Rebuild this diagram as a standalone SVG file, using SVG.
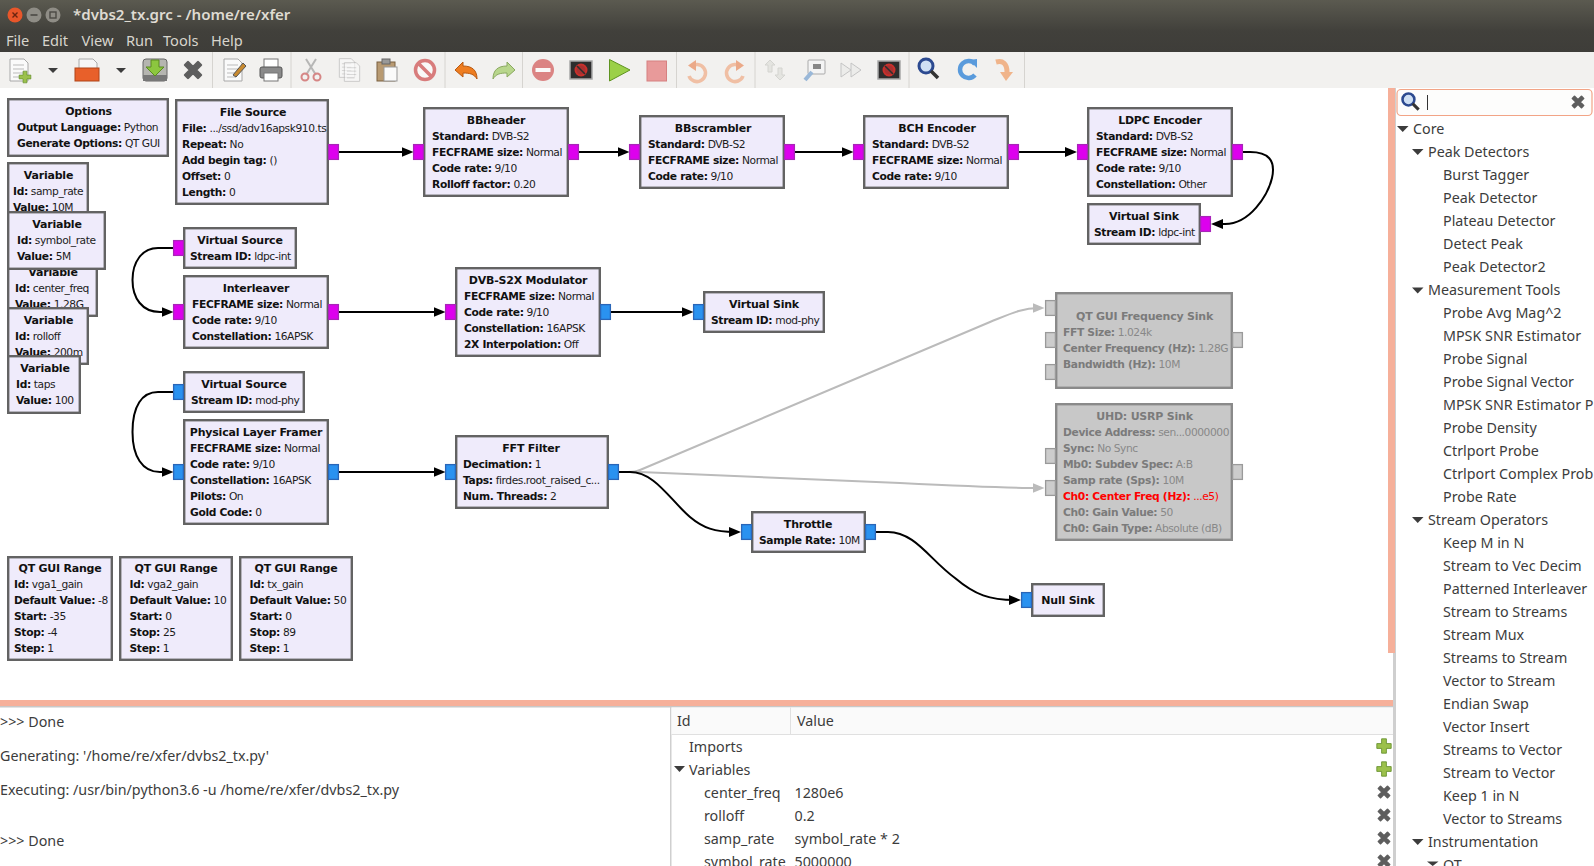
<svg xmlns="http://www.w3.org/2000/svg" width="1594" height="866" viewBox="0 0 1594 866">
<style>
text{font-family:"DejaVu Sans",sans-serif;font-size:10.7px;letter-spacing:-.45px;fill:#1c1c1c;white-space:pre}
.ui{font-family:"Noto Sans",sans-serif;font-size:14.3px;letter-spacing:0;fill:#3c3c3c}
.ttl{font-family:"Noto Sans",sans-serif;font-size:15.1px;letter-spacing:0;fill:#dfdbd2;font-weight:600}
.mn{font-family:"Noto Sans",sans-serif;font-size:14.6px;letter-spacing:0;fill:#d8d5cd}
.t{font-weight:bold;text-anchor:middle;font-size:11px;letter-spacing:-.22px;fill:#111}
.k{font-weight:bold;fill:#111;letter-spacing:-.33px}
.b{fill:#efebfb;stroke:#636363;stroke-width:2.4}
.pm{fill:#dd00ee;stroke:#a825b8;stroke-width:1.3}
.pb{fill:#2a92f0;stroke:#2a66b8;stroke-width:1.3}
.pg{fill:#cccccc;stroke:#9a9a9a;stroke-width:1.3}
.d .b{fill:#c8c8c8;stroke:#8a8a8a}
.d text{fill:#888888}
.d .t,.d .k{fill:#7b7b7b}
.d .re{fill:#ff0000}
.c{fill:none;stroke:#000;stroke-width:2;marker-end:url(#ah)}
.cg{fill:none;stroke:#bbbbbb;stroke-width:2;marker-end:url(#ahg)}
.tri{fill:#3c3c3c}
.sep{stroke:#d6d4d0;stroke-width:1}
</style>
<defs>
<linearGradient id="gt" x1="0" y1="0" x2="0" y2="1"><stop offset="0" stop-color="#5b5a50"/><stop offset="0.6" stop-color="#41403b"/><stop offset="1" stop-color="#3e3d39"/></linearGradient>
<marker id="ah" markerUnits="userSpaceOnUse" markerWidth="12" markerHeight="10" viewBox="0 0 12 10" refX="6" refY="5" orient="auto"><path d="M0 0L12 5L0 10Z" fill="#000"/></marker>
<marker id="ahg" markerUnits="userSpaceOnUse" markerWidth="12" markerHeight="10" viewBox="0 0 12 10" refX="6" refY="5" orient="auto"><path d="M0 0L12 5L0 10Z" fill="#bbb"/></marker>
<g id="ix"><path d="M-8 -5L-5 -8L0 -3L5 -8L8 -5L3 0L8 5L5 8L0 3L-5 8L-8 5L-3 0Z" fill="#5e5e5e" stroke="#5e5e5e" stroke-width="2.400" stroke-linejoin="round"/></g>
<g id="ip"><path d="M-3 -9H3V-3H9V3H3V9H-3V3H-9V-3H-3Z" fill="#9cc14c" stroke="#5f8a26"/></g>
<g id="ib"><rect x="-11" y="-9" width="22" height="18" fill="#2d2d2d" stroke="#a8a8a8" stroke-width="1.500"/><circle r="5.500" fill="#a83030" stroke="#c8302c" stroke-width="2"/><path d="M-4 -4L4 4" stroke="#2d2d2d" stroke-width="1.600"/></g>
<g id="im"><circle cx="-3" cy="-3" r="7" fill="#cfe0f4" stroke="#2c4a90" stroke-width="3"/><path d="M2 2L9 9" stroke="#333" stroke-width="3.600"/></g>
<g id="id"><path d="M-9 -11H5L9 -7V11H-9Z" fill="#fafafa" stroke="#a8a8a8"/><path d="M-6 -5H5M-6 -1H5M-6 3H5M-6 7H3" stroke="#bbb"/></g>
</defs>
<rect width="1594" height="866" fill="#fff"/>

<g id="titlebar">
<rect width="1594" height="52" fill="url(#gt)"/>
<circle cx="15" cy="15" r="7.500" fill="#e8562a"/><path d="M12.500 12.500L17.500 17.500M17.500 12.500L12.500 17.500" stroke="#6b2410" stroke-width="1.400"/>
<circle cx="34" cy="15" r="7.500" fill="#8f8d86"/><path d="M30.500 15H37.500" stroke="#4a4944" stroke-width="1.600"/>
<circle cx="53" cy="15" r="7.500" fill="#8f8d86"/><rect x="50" y="12" width="6" height="6" fill="none" stroke="#4a4944" stroke-width="1.400"/>
<text class="ttl" x="73" y="20">*dvbs2_tx.grc - /home/re/xfer</text>
<text class="mn" x="6" y="46">File</text><text class="mn" x="42" y="46">Edit</text><text class="mn" x="81.500" y="46">View</text><text class="mn" x="126" y="46">Run</text><text class="mn" x="163" y="46">Tools</text><text class="mn" x="211" y="46">Help</text>
</g>

<g id="toolbar">
<rect y="52" width="1594" height="36" fill="#f2f1ef"/>
<path class="sep" d="M212.500 52V88M291 52V88M445 52V88M522.500 52V88M676.500 52V88M755 52V88M909 52V88M1024.500 52V88"/>
<g transform="translate(19,70)"><use href="#id"/></g><use href="#ip" transform="translate(25,77) scale(.65)"/>
<path d="M48 68H58L53 73Z" fill="#3c3c3c"/>
<g transform="translate(87,70)"><path d="M-8 -11H6L10 -7V2H-8Z" fill="#f6f6f6" stroke="#aaa"/><rect x="-12" y="-2" width="24" height="13" fill="#e8602a" stroke="#b04518"/></g>
<path d="M116 68H126L121 73Z" fill="#3c3c3c"/>
<g transform="translate(155,70)"><rect x="-12" y="-11" width="24" height="22" rx="3" fill="#b5b5b0" stroke="#666"/><rect x="-12" y="5" width="24" height="6" fill="#777"/><path d="M-4 -10H4V-3H9L0 6L-9 -3H-4Z" fill="#8cc63f" stroke="#5a8a20"/></g>
<use href="#ix" transform="translate(193,70)"/>
<g transform="translate(233,70)"><use href="#id"/><path d="M0 5L10 -7L13 -4L3 7Z" fill="#c88a30" stroke="#555"/></g>
<g transform="translate(271,70)"><rect x="-7" y="-11" width="14" height="9" fill="#fff" stroke="#777"/><rect x="-11" y="-3" width="22" height="11" rx="2" fill="#8a8a8a" stroke="#555"/><rect x="-7" y="3" width="14" height="8" fill="#fff" stroke="#777"/></g>
<g transform="translate(311,70)" opacity=".55"><path d="M-5 -11L5 5M5 -11L-5 5" stroke="#888" stroke-width="2"/><circle cx="-6" cy="7" r="3.500" fill="none" stroke="#c03030" stroke-width="2"/><circle cx="6" cy="7" r="3.500" fill="none" stroke="#c03030" stroke-width="2"/></g>
<g transform="translate(347,68) scale(.85)" opacity=".6"><use href="#id"/></g><g transform="translate(352,72) scale(.85)" opacity=".6"><use href="#id"/></g>
<g transform="translate(387,70)"><rect x="-10" y="-8" width="18" height="19" fill="#b89a72" stroke="#7a6040"/><rect x="-5" y="-11" width="8" height="5" fill="#999" stroke="#666"/><rect x="-3" y="-3" width="13" height="14" fill="#fafafa" stroke="#999"/></g>
<g transform="translate(425,70)" opacity=".6"><circle r="9.500" fill="#fff" stroke="#c83030" stroke-width="3.500"/><path d="M-6.500 -6.500L6.500 6.500" stroke="#c83030" stroke-width="3.500"/></g>
<path d="M455 70L463 62V66C472 66 477 70 477 79C474 74 470 73 463 73V77Z" fill="#ee7d20" stroke="#b85810"/>
<path d="M515 70L507 62V66C498 66 493 70 493 79C496 74 500 73 507 73V77Z" fill="#b8d68c" stroke="#8aa860"/>
<g transform="translate(543,70)" opacity=".65"><circle r="11" fill="#cf4a4a"/><rect x="-7.500" y="-2" width="15" height="4" fill="#fff"/></g>
<use href="#ib" transform="translate(581,70)"/>
<path d="M609.500 59.500L630 70L609.500 81Z" fill="#9bd048" stroke="#5f9420"/>
<rect x="647" y="61" width="19.500" height="20" fill="#e89a9a" stroke="#d68080"/>
<g fill="none" stroke="#f0bfa4" stroke-width="3.600"><path d="M691 67A8.500 8.500 0 1 1 689 76"/><path d="M741 67A8.500 8.500 0 1 0 743 76"/></g>
<path d="M696 60V71L688 65.500Z" fill="#eba988"/><path d="M736 60V71L744 65.500Z" fill="#eba988"/>
<path d="M768 72V65H765L770 60L775 65H772V72ZM778 68V75H775L780 80L785 75H782V68Z" fill="#e4e4e0" stroke="#d4d4d0"/>
<rect x="808" y="60" width="17" height="14" rx="1" fill="#f4f4f4" stroke="#aaa"/><rect x="813" y="64" width="8" height="5" fill="#888"/><path d="M805 80L812 72" stroke="#9ab8d8" stroke-width="4"/>
<path d="M841 63L851 70L841 77ZM851 63L861 70L851 77Z" fill="#ececea" stroke="#c4c4c4"/>
<use href="#ib" transform="translate(889,70)"/>
<use href="#im" transform="translate(929,69)"/>
<path d="M975 64A8.500 8.500 0 1 0 975 75" fill="none" stroke="#5a9bdc" stroke-width="4.500"/><path d="M969 60L977 59V68Z" fill="#5a9bdc"/>
<path d="M996 62C1003 60 1007 64 1007 72" fill="none" stroke="#f0b48a" stroke-width="5"/><path d="M1000 72H1013L1006 81Z" fill="#f0b48a"/>
</g>

<g id="connectors">
<path class="cg" d="M618 472H628C632 472 636 472 640 470L990 322C1010 314 1022 308 1038.500 308"/>
<path class="cg" d="M618 472H640L900 483C960 486 1010 488 1038.500 488"/>
<path class="c" d="M339 152H407.500"/>
<path class="c" d="M579 152H623.500"/>
<path class="c" d="M795 152H847.500"/>
<path class="c" d="M1019 152H1071"/>
<path class="c" d="M1243 152H1250C1268 152 1276 160 1272 178C1268 195 1250 224 1225 224H1217"/>
<path class="c" d="M173 248H158C142 248 132.500 262 132.500 280C132.500 298 142 312 160 312H167.500"/>
<path class="c" d="M339 312H439.500"/>
<path class="c" d="M610 312H687.500"/>
<path class="c" d="M173 392H158C142 392 132.500 406 132.500 432C132.500 456 142 472 160 472H167.500"/>
<path class="c" d="M339 472H439.500"/>
<path class="c" d="M618 472H630C655 472 670 500 690 517C703 528 715 532 735 532"/>
<path class="c" d="M875 532H888C915 532 930 560 955 578C975 595 990 600 1015 600"/>
</g>

<g id="node-options"><rect class="b" x="8.200" y="99.200" width="159.600" height="56.600"/><text class="t" x="88.500" y="115">Options</text><text x="17" y="131"><tspan class="k">Output Language:</tspan> Python</text><text x="17" y="147"><tspan class="k">Generate Options:</tspan> QT GUI</text></g>

<g id="node-samp-rate"><rect class="b" x="8.200" y="163.200" width="79.600" height="56.600"/><text class="t" x="48.500" y="179">Variable</text><text x="13" y="195"><tspan class="k">Id:</tspan> samp_rate</text><text x="13" y="211"><tspan class="k">Value:</tspan> 10M</text></g>
<g id="node-center-freq"><rect class="b" x="8.200" y="259.200" width="88.600" height="56.600"/><text class="t" x="53" y="276">Variable</text><text x="15" y="292"><tspan class="k">Id:</tspan> center_freq</text><text x="15" y="308"><tspan class="k">Value:</tspan> 1.28G</text></g>
<g id="node-symbol-rate"><rect class="b" x="8.200" y="212.200" width="96.600" height="56.600"/><text class="t" x="57" y="228">Variable</text><text x="17" y="244"><tspan class="k">Id:</tspan> symbol_rate</text><text x="17" y="260"><tspan class="k">Value:</tspan> 5M</text></g>
<g id="node-rolloff"><rect class="b" x="8.200" y="308.200" width="79.600" height="55.600"/><text class="t" x="48.500" y="324">Variable</text><text x="15" y="340"><tspan class="k">Id:</tspan> rolloff</text><text x="15" y="356"><tspan class="k">Value:</tspan> 200m</text></g>
<g id="node-taps"><rect class="b" x="8.200" y="356.200" width="71.600" height="56.600"/><text class="t" x="45" y="372">Variable</text><text x="16" y="388"><tspan class="k">Id:</tspan> taps</text><text x="16" y="404"><tspan class="k">Value:</tspan> 100</text></g>

<g id="node-file-source"><rect class="b" x="176.200" y="100.200" width="151.600" height="103.600"/><rect class="pm" x="328.600" y="144.600" width="9.800" height="14.800"/><text class="t" x="253" y="116">File Source</text><text x="182" y="132"><tspan class="k">File:</tspan> .../ssd/adv16apsk910.ts</text><text x="182" y="148"><tspan class="k">Repeat:</tspan> No</text><text x="182" y="164"><tspan class="k">Add begin tag:</tspan> ()</text><text x="182" y="180"><tspan class="k">Offset:</tspan> 0</text><text x="182" y="196"><tspan class="k">Length:</tspan> 0</text></g>

<g id="node-bbheader"><rect class="b" x="424.200" y="108.200" width="143.600" height="87.600"/><rect class="pm" x="413.600" y="144.600" width="9.800" height="14.800"/><rect class="pm" x="568.600" y="144.600" width="9.800" height="14.800"/><text class="t" x="496" y="124">BBheader</text><text x="432" y="140"><tspan class="k">Standard:</tspan> DVB-S2</text><text x="432" y="156"><tspan class="k">FECFRAME size:</tspan> Normal</text><text x="432" y="172"><tspan class="k">Code rate:</tspan> 9/10</text><text x="432" y="188"><tspan class="k">Rolloff factor:</tspan> 0.20</text></g>

<g id="node-bbscrambler"><rect class="b" x="640.200" y="116.200" width="143.600" height="71.600"/><rect class="pm" x="629.600" y="144.600" width="9.800" height="14.800"/><rect class="pm" x="784.600" y="144.600" width="9.800" height="14.800"/><text class="t" x="713" y="132">BBscrambler</text><text x="648" y="148"><tspan class="k">Standard:</tspan> DVB-S2</text><text x="648" y="164"><tspan class="k">FECFRAME size:</tspan> Normal</text><text x="648" y="180"><tspan class="k">Code rate:</tspan> 9/10</text></g>

<g id="node-bch"><rect class="b" x="864.200" y="116.200" width="143.600" height="71.600"/><rect class="pm" x="853.600" y="144.600" width="9.800" height="14.800"/><rect class="pm" x="1008.600" y="144.600" width="9.800" height="14.800"/><text class="t" x="937" y="132">BCH Encoder</text><text x="872" y="148"><tspan class="k">Standard:</tspan> DVB-S2</text><text x="872" y="164"><tspan class="k">FECFRAME size:</tspan> Normal</text><text x="872" y="180"><tspan class="k">Code rate:</tspan> 9/10</text></g>

<g id="node-ldpc"><rect class="b" x="1088.200" y="108.200" width="143.600" height="87.600"/><rect class="pm" x="1077.600" y="144.600" width="9.800" height="14.800"/><rect class="pm" x="1232.600" y="144.600" width="9.800" height="14.800"/><text class="t" x="1160" y="124">LDPC Encoder</text><text x="1096" y="140"><tspan class="k">Standard:</tspan> DVB-S2</text><text x="1096" y="156"><tspan class="k">FECFRAME size:</tspan> Normal</text><text x="1096" y="172"><tspan class="k">Code rate:</tspan> 9/10</text><text x="1096" y="188"><tspan class="k">Constellation:</tspan> Other</text></g>

<g id="node-vsink-ldpc"><rect class="b" x="1088.200" y="204.200" width="111.600" height="39.600"/><rect class="pm" x="1200.600" y="216.600" width="9.800" height="14.800"/><text class="t" x="1144" y="220">Virtual Sink</text><text x="1094" y="236"><tspan class="k">Stream ID:</tspan> ldpc-int</text></g>

<g id="node-vsource-ldpc"><rect class="b" x="184.200" y="228.200" width="111.600" height="39.600"/><rect class="pm" x="173.600" y="240.600" width="9.800" height="14.800"/><text class="t" x="240" y="244">Virtual Source</text><text x="190" y="260"><tspan class="k">Stream ID:</tspan> ldpc-int</text></g>

<g id="node-interleaver"><rect class="b" x="184.200" y="276.200" width="143.600" height="71.600"/><rect class="pm" x="173.600" y="304.600" width="9.800" height="14.800"/><rect class="pm" x="328.600" y="304.600" width="9.800" height="14.800"/><text class="t" x="256" y="292">Interleaver</text><text x="192" y="308"><tspan class="k">FECFRAME size:</tspan> Normal</text><text x="192" y="324"><tspan class="k">Code rate:</tspan> 9/10</text><text x="192" y="340"><tspan class="k">Constellation:</tspan> 16APSK</text></g>

<g id="node-dvbs2x-mod"><rect class="b" x="456.200" y="268.200" width="143.600" height="87.600"/><rect class="pm" x="445.600" y="304.600" width="9.800" height="14.800"/><rect class="pb" x="600.600" y="304.600" width="9.800" height="14.800"/><text class="t" x="528" y="284">DVB-S2X Modulator</text><text x="464" y="300"><tspan class="k">FECFRAME size:</tspan> Normal</text><text x="464" y="316"><tspan class="k">Code rate:</tspan> 9/10</text><text x="464" y="332"><tspan class="k">Constellation:</tspan> 16APSK</text><text x="464" y="348"><tspan class="k">2X Interpolation:</tspan> Off</text></g>

<g id="node-vsink-mod"><rect class="b" x="704.200" y="292.200" width="119.600" height="39.600"/><rect class="pb" x="693.600" y="304.600" width="9.800" height="14.800"/><text class="t" x="764" y="308">Virtual Sink</text><text x="711" y="324"><tspan class="k">Stream ID:</tspan> mod-phy</text></g>

<g id="node-vsource-mod"><rect class="b" x="184.200" y="372.200" width="119.600" height="39.600"/><rect class="pb" x="173.600" y="384.600" width="9.800" height="14.800"/><text class="t" x="244" y="388">Virtual Source</text><text x="191" y="404"><tspan class="k">Stream ID:</tspan> mod-phy</text></g>

<g id="node-framer"><rect class="b" x="184.200" y="420.200" width="143.600" height="103.600"/><rect class="pb" x="173.600" y="464.600" width="9.800" height="14.800"/><rect class="pb" x="328.600" y="464.600" width="9.800" height="14.800"/><text class="t" x="256" y="436">Physical Layer Framer</text><text x="190" y="452"><tspan class="k">FECFRAME size:</tspan> Normal</text><text x="190" y="468"><tspan class="k">Code rate:</tspan> 9/10</text><text x="190" y="484"><tspan class="k">Constellation:</tspan> 16APSK</text><text x="190" y="500"><tspan class="k">Pilots:</tspan> On</text><text x="190" y="516"><tspan class="k">Gold Code:</tspan> 0</text></g>

<g id="node-fft-filter"><rect class="b" x="456.200" y="436.200" width="151.600" height="71.600"/><rect class="pb" x="445.600" y="464.600" width="9.800" height="14.800"/><rect class="pb" x="608.600" y="464.600" width="9.800" height="14.800"/><text class="t" x="531" y="452">FFT Filter</text><text x="463" y="468"><tspan class="k">Decimation:</tspan> 1</text><text x="463" y="484"><tspan class="k">Taps:</tspan> firdes.root_raised_c...</text><text x="463" y="500"><tspan class="k">Num. Threads:</tspan> 2</text></g>

<g id="node-freq-sink" class="d"><rect class="b" x="1056.200" y="293.200" width="175.600" height="94.600"/><rect class="pg" x="1045.600" y="300.600" width="9.800" height="14.800"/><rect class="pg" x="1045.600" y="332.600" width="9.800" height="14.800"/><rect class="pg" x="1045.600" y="364.600" width="9.800" height="14.800"/><rect class="pg" x="1232.600" y="332.600" width="9.800" height="14.800"/><text class="t" x="1144.500" y="320">QT GUI Frequency Sink</text><text x="1063" y="336"><tspan class="k">FFT Size:</tspan> 1.024k</text><text x="1063" y="352"><tspan class="k">Center Frequency (Hz):</tspan> 1.28G</text><text x="1063" y="368"><tspan class="k">Bandwidth (Hz):</tspan> 10M</text></g>

<g id="node-usrp-sink" class="d"><rect class="b" x="1056.200" y="404.200" width="175.600" height="135.600"/><rect class="pg" x="1045.600" y="448.600" width="9.800" height="14.800"/><rect class="pg" x="1045.600" y="480.600" width="9.800" height="14.800"/><rect class="pg" x="1232.600" y="464.600" width="9.800" height="14.800"/><text class="t" x="1144.500" y="420">UHD: USRP Sink</text><text x="1063" y="436"><tspan class="k">Device Address:</tspan> sen...0000000</text><text x="1063" y="452"><tspan class="k">Sync:</tspan> No Sync</text><text x="1063" y="468"><tspan class="k">Mb0: Subdev Spec:</tspan> A:B</text><text x="1063" y="484"><tspan class="k">Samp rate (Sps):</tspan> 10M</text><text x="1063" y="500" class="re"><tspan class="k re">Ch0: Center Freq (Hz):</tspan> ...e5)</text><text x="1063" y="516"><tspan class="k">Ch0: Gain Value:</tspan> 50</text><text x="1063" y="532"><tspan class="k">Ch0: Gain Type:</tspan> Absolute (dB)</text></g>

<g id="node-throttle"><rect class="b" x="752.200" y="512.200" width="112.600" height="39.600"/><rect class="pb" x="741.600" y="524.600" width="9.800" height="14.800"/><rect class="pb" x="865.600" y="524.600" width="9.800" height="14.800"/><text class="t" x="808" y="528">Throttle</text><text x="759" y="544"><tspan class="k">Sample Rate:</tspan> 10M</text></g>

<g id="node-null-sink"><rect class="b" x="1032.200" y="584.200" width="71.600" height="31.600"/><rect class="pb" x="1021.600" y="592.600" width="9.800" height="14.800"/><text class="t" x="1068" y="604">Null Sink</text></g>

<g id="node-range-vga1"><rect class="b" x="8.200" y="557.200" width="103.600" height="102.600"/><text class="t" x="60" y="572">QT GUI Range</text><text x="14" y="588"><tspan class="k">Id:</tspan> vga1_gain</text><text x="14" y="604"><tspan class="k">Default Value:</tspan> -8</text><text x="14" y="620"><tspan class="k">Start:</tspan> -35</text><text x="14" y="636"><tspan class="k">Stop:</tspan> -4</text><text x="14" y="652"><tspan class="k">Step:</tspan> 1</text></g>
<g id="node-range-vga2"><rect class="b" x="120.200" y="557.200" width="111.600" height="102.600"/><text class="t" x="176" y="572">QT GUI Range</text><text x="129.500" y="588"><tspan class="k">Id:</tspan> vga2_gain</text><text x="129.500" y="604"><tspan class="k">Default Value:</tspan> 10</text><text x="129.500" y="620"><tspan class="k">Start:</tspan> 0</text><text x="129.500" y="636"><tspan class="k">Stop:</tspan> 25</text><text x="129.500" y="652"><tspan class="k">Step:</tspan> 1</text></g>
<g id="node-range-tx"><rect class="b" x="240.200" y="557.200" width="111.600" height="102.600"/><text class="t" x="296" y="572">QT GUI Range</text><text x="249.500" y="588"><tspan class="k">Id:</tspan> tx_gain</text><text x="249.500" y="604"><tspan class="k">Default Value:</tspan> 50</text><text x="249.500" y="620"><tspan class="k">Start:</tspan> 0</text><text x="249.500" y="636"><tspan class="k">Stop:</tspan> 89</text><text x="249.500" y="652"><tspan class="k">Step:</tspan> 1</text></g>

<g id="panes">
<rect x="1388" y="88" width="7" height="565" fill="#f6b09a"/>
<rect x="1393" y="653" width="3" height="213" fill="#cfcfcf"/>
<rect x="1395" y="88" width="1" height="565" fill="#cfcfcf"/>
<rect y="700" width="1393" height="6" fill="#f6b09a"/>
<rect y="706" width="1393" height="1.500" fill="#c8c8c8"/>
<rect x="670" y="707" width="1.500" height="159" fill="#cfcfcf"/>
<rect x="671.500" y="707.500" width="721.500" height="27" fill="#fafafa"/>
<path d="M671.500 734.500H1393M790.500 707.500V734" stroke="#e0e0e0" fill="none"/>
</g>

<g id="console">
<text class="ui" x="0" y="727">&gt;&gt;&gt; Done</text>
<text class="ui" x="0" y="761">Generating: '/home/re/xfer/dvbs2_tx.py'</text>
<text class="ui" x="0" y="795">Executing: /usr/bin/python3.6 -u /home/re/xfer/dvbs2_tx.py</text>
<text class="ui" x="0" y="846">&gt;&gt;&gt; Done</text>
</g>

<g id="variables">
<text class="ui" x="677" y="726">Id</text><text class="ui" x="797" y="726">Value</text>
<text class="ui" x="689" y="752">Imports</text>
<path class="tri" d="M674 766H685L679.500 772Z"/><text class="ui" x="689" y="775">Variables</text>
<text class="ui" x="704" y="798">center_freq</text><text class="ui" x="794.500" y="798">1280e6</text>
<text class="ui" x="704" y="821">rolloff</text><text class="ui" x="794.500" y="821">0.2</text>
<text class="ui" x="704" y="844">samp_rate</text><text class="ui" x="794.500" y="844">symbol_rate * 2</text>
<text class="ui" x="704" y="867">symbol_rate</text><text class="ui" x="794.500" y="867">5000000</text>
<use href="#ip" transform="translate(1384,746) scale(.8)"/><use href="#ip" transform="translate(1384,769) scale(.8)"/>
<use href="#ix" transform="translate(1384,792) scale(.7)"/><use href="#ix" transform="translate(1384,815) scale(.7)"/><use href="#ix" transform="translate(1384,838) scale(.7)"/><use href="#ix" transform="translate(1384,861) scale(.7)"/>
</g>

<g id="library">
<rect x="1397" y="89.500" width="195" height="26" rx="4" fill="#fdfdfc" stroke="#f2a486" stroke-width="1.200"/>
<use href="#im" transform="translate(1411,102) scale(.85)"/>
<path d="M1427.500 95V110" stroke="#333"/>
<use href="#ix" transform="translate(1578,102) scale(.7)"/>
<g class="tri">
<path d="M1397 126H1408.500L1402.700 132Z"/><path d="M1412 149H1423.500L1417.700 155Z"/><path d="M1412 287.500H1423.500L1417.700 293.500Z"/><path d="M1412 517H1423.500L1417.700 523Z"/><path d="M1412 839H1423.500L1417.700 845Z"/><path d="M1427 861.500H1438.500L1432.700 866Z"/>
</g>
<text class="ui" x="1413" y="134">Core</text>
<text class="ui" x="1428" y="157">Peak Detectors</text>
<text class="ui" x="1443" y="180">Burst Tagger</text>
<text class="ui" x="1443" y="203">Peak Detector</text>
<text class="ui" x="1443" y="226">Plateau Detector</text>
<text class="ui" x="1443" y="249">Detect Peak</text>
<text class="ui" x="1443" y="272">Peak Detector2</text>
<text class="ui" x="1428" y="295">Measurement Tools</text>
<text class="ui" x="1443" y="318">Probe Avg Mag^2</text>
<text class="ui" x="1443" y="341">MPSK SNR Estimator</text>
<text class="ui" x="1443" y="364">Probe Signal</text>
<text class="ui" x="1443" y="387">Probe Signal Vector</text>
<text class="ui" x="1443" y="410">MPSK SNR Estimator P</text>
<text class="ui" x="1443" y="433">Probe Density</text>
<text class="ui" x="1443" y="456">Ctrlport Probe</text>
<text class="ui" x="1443" y="479">Ctrlport Complex Prob</text>
<text class="ui" x="1443" y="502">Probe Rate</text>
<text class="ui" x="1428" y="525">Stream Operators</text>
<text class="ui" x="1443" y="548">Keep M in N</text>
<text class="ui" x="1443" y="571">Stream to Vec Decim</text>
<text class="ui" x="1443" y="594">Patterned Interleaver</text>
<text class="ui" x="1443" y="617">Stream to Streams</text>
<text class="ui" x="1443" y="640">Stream Mux</text>
<text class="ui" x="1443" y="663">Streams to Stream</text>
<text class="ui" x="1443" y="686">Vector to Stream</text>
<text class="ui" x="1443" y="709">Endian Swap</text>
<text class="ui" x="1443" y="732">Vector Insert</text>
<text class="ui" x="1443" y="755">Streams to Vector</text>
<text class="ui" x="1443" y="778">Stream to Vector</text>
<text class="ui" x="1443" y="801">Keep 1 in N</text>
<text class="ui" x="1443" y="824">Vector to Streams</text>
<text class="ui" x="1428" y="847">Instrumentation</text>
<text class="ui" x="1443" y="870">QT</text>
</g>
</svg>
